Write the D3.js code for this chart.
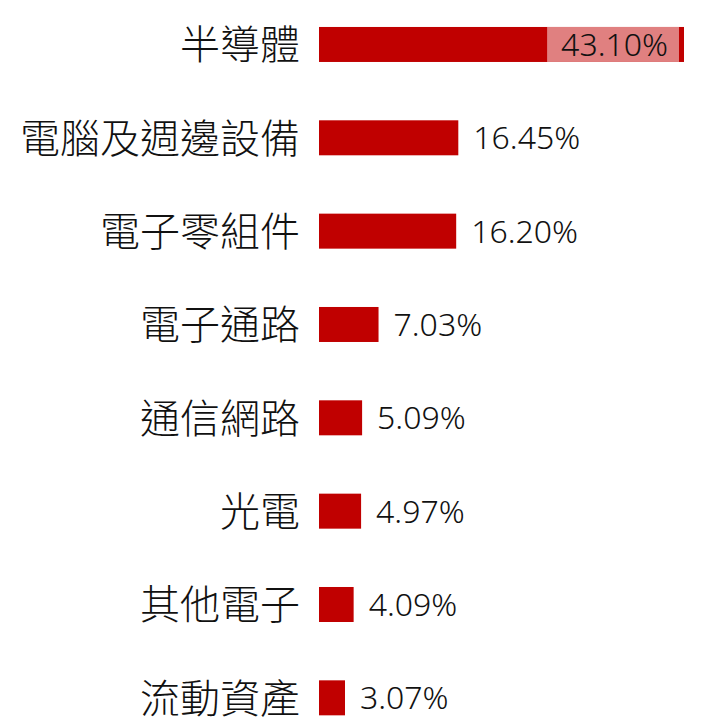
<!DOCTYPE html>
<html>
<head>
<meta charset="utf-8">
<script src="https://cdn.jsdelivr.net/npm/d3@7"></script>
<style>
  html, body { margin: 0; padding: 0; background: #fff; }
  svg { display: block; }
  text { fill: #111; }
  .cat { font-family: "Noto Sans CJK TC", "Noto Sans", sans-serif; font-weight: 300; }
  .val { font-family: "Noto Sans", "Open Sans", sans-serif; font-weight: 300; }
</style>
</head>
<body>
<svg id="chart" width="709" height="727"></svg>
<script>
const categories = ["半導體", "電腦及週邊設備", "電子零組件", "電子通路", "通信網路", "光電", "其他電子", "流動資產"];
const values = [43.10, 16.45, 16.20, 7.03, 5.09, 4.97, 4.09, 3.07];
const valueLabels = ["43.10%", "16.45%", "16.20%", "7.03%", "5.09%", "4.97%", "4.09%", "3.07%"];

const data = categories.map((c, i) => ({ cat: c, value: values[i], label: valueLabels[i] }));

const svg = d3.select("#chart");
const x = d3.scaleLinear().domain([0, d3.max(values)]).range([319, 684]);
const y = d3.scaleBand().domain(categories).range([-2.2, 744.5]).paddingInner(0.625).paddingOuter(0.3125);

const barColor = "#c00000";

const rows = svg.selectAll("g.row").data(data).join("g").attr("class", "row");

rows.append("rect")
  .attr("x", x(0))
  .attr("y", d => y(d.cat))
  .attr("width", d => x(d.value) - x(0))
  .attr("height", y.bandwidth())
  .attr("fill", barColor);

rows.append("text")
  .attr("class", "cat")
  .attr("x", 300)
  .attr("y", d => y(d.cat) + y.bandwidth() / 2 - 2)
  .attr("text-anchor", "end")
  .attr("dominant-baseline", "central")
  .style("font-size", "40px")
  .text(d => d.cat);

rows.each(function(d, i) {
  const g = d3.select(this);
  const cy = y(d.cat) + y.bandwidth() / 2 - 1;
  if (i === 0) {
    const t = g.append("text")
      .attr("class", "val")
      .attr("x", x(d.value) - 16)
      .attr("y", cy)
      .attr("text-anchor", "end")
      .attr("dominant-baseline", "central")
      .style("font-size", "32px")
      .text(d.label);
    const bb = t.node().getBBox();
    g.insert("rect", "text:last-of-type")
      .attr("x", bb.x - 14)
      .attr("y", y(d.cat))
      .attr("width", x(d.value) - 5 - (bb.x - 14))
      .attr("height", y.bandwidth())
      .attr("fill", "#e08080");
    t.raise();
  } else {
    g.append("text")
      .attr("class", "val")
      .attr("x", x(d.value) + 15)
      .attr("y", cy)
      .attr("text-anchor", "start")
      .attr("dominant-baseline", "central")
      .style("font-size", "32px")
      .text(d.label);
  }
});
</script>
</body>
</html>
